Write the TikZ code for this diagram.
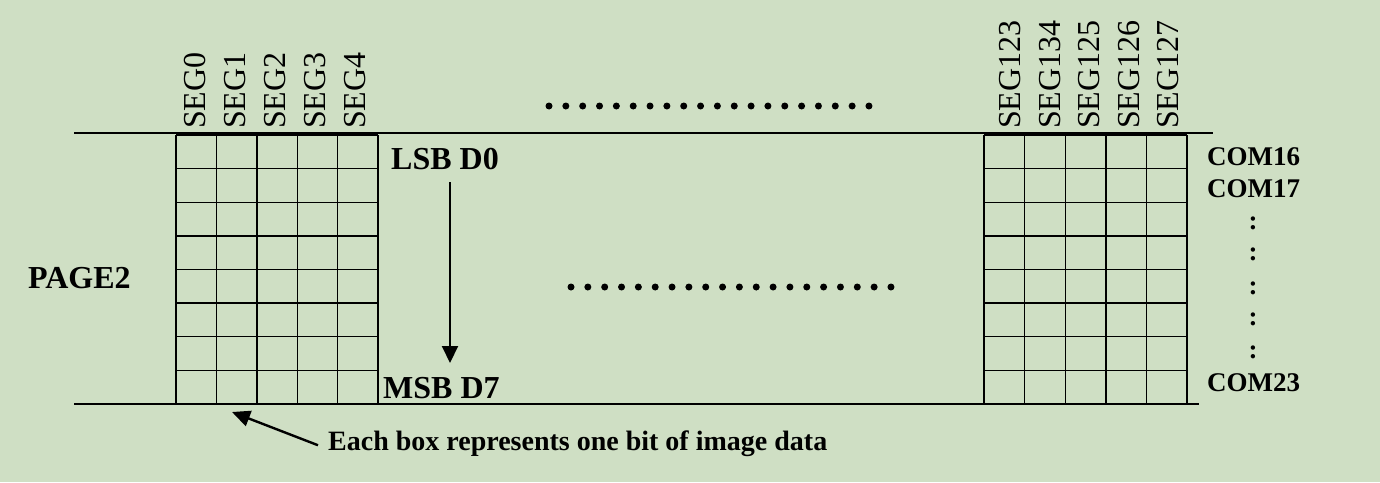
\documentclass[tikz,border=0pt]{standalone}
\usepackage{fontspec}
\setmainfont{Liberation Serif}
\usetikzlibrary{arrows.meta}
\definecolor{lcdbg}{RGB}{207,223,196}
\begin{document}
\begin{tikzpicture}[x=1pt, y=-1pt, line join=round, >={Triangle[length=17pt,width=16pt]},
	seg/.style={rotate=90, anchor=west, inner sep=0pt, font=\fontsize{32}{36}\selectfont},
	lbl/.style={anchor=base west, inner sep=0pt, font=\fontsize{32}{36}\selectfont\bfseries},
	com/.style={anchor=base west, inner sep=0pt, font=\fontsize{27}{32}\selectfont\bfseries},
	cell/.style={line width=1.4pt}]
	\fill[lcdbg] (0,0) rectangle (1380,482);
	\def\rh{33.625} \def\top{135} \def\bot{404}
	% page borders
	\draw[line width=2.6pt] (74,133)--(1213,133);
	\draw[line width=2.6pt] (74,\bot)--(1199,\bot);
	% the two blocks of cells
	\foreach \gx/\cw in {176/40.4,984/40.6}{
		\foreach \i in {0,...,5} \draw[cell] ({\gx+\cw*\i},\top)--({\gx+\cw*\i},\bot);
		\foreach \j in {0,...,8} \draw[cell] (\gx,{\top+\rh*\j})--({\gx+5*\cw},{\top+\rh*\j});
	}
	\foreach \n [count=\i from 0] in {0,...,4} \node[seg] (seg\n) at ({195.5+39.9*\i},129) {SEG\n};
	\foreach \n [count=\i from 0] in {123,134,125,126,127} \node[seg] (seg\n) at ({1010+39.6*\i},129) {SEG\n};
	% dots
	\foreach \k in {0,...,19} \fill ({549+16.84*\k},106) circle (3.5);
	\foreach \k in {0,...,19} \fill ({571+16.84*\k},287) circle (3.5);
	\node[lbl] (page) at (28,288) {PAGE2};
	\node[lbl] (lsb) at (391,169) {LSB D0};
	\node[lbl] (msb) at (383,398) {MSB D7};
	\node[com] (com16) at (1207,165) {COM16};
	\node[com] (com17) at (1207,197) {COM17};
	\node[com] (com23) at (1207,391) {COM23};
	\foreach \y [count=\i] in {223,254,288,319,352} \node[com, anchor=center] (vd\i) at (1253,\y) {:};
	% bit order
	\coordinate (d0) at (450,182); \coordinate (d7) at (450,363);
	\draw[->, line width=2pt] (d0)--(d7);
	\node[com, font=\fontsize{28}{32}\selectfont\bfseries] (note) at (328,450) {Each box represents one bit of image data};
	\coordinate (box) at (232,412);
	\draw[-{Triangle[length=18pt,width=16pt]}, line width=2.4pt] ([xshift=-10pt,yshift=-2pt]note.west)--(box);
\end{tikzpicture}
\end{document}
